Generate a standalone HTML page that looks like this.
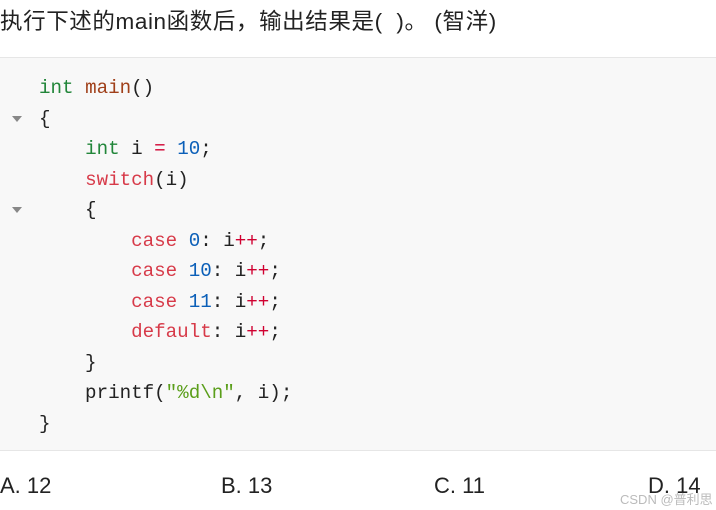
<!DOCTYPE html>
<html><head><meta charset="utf-8"><style>
body{margin:0;width:716px;height:510px;background:#fff;position:relative;overflow:hidden;font-family:"Liberation Sans","Noto Sans CJK SC",sans-serif;color:#222}
.t{position:absolute;left:0;top:8px;font-size:22.5px;letter-spacing:0.6px;line-height:28px;white-space:pre}
.code{position:absolute;left:0;top:57px;width:716px;height:392px;background:#f8f8f8;border-top:1px solid #e6e6e6;border-bottom:1px solid #e6e6e6}
pre{position:absolute;left:39px;top:15px;margin:0;font-family:"Liberation Mono","DejaVu Sans Mono",monospace;font-size:19.2px;line-height:30.5px;color:#222}
.k{color:#22863a}.f{color:#a0401a}.r{color:#d73a49}.n{color:#0b5fb8}.s{color:#5a9e1a}.o{color:#d00030}
.tri{position:absolute;left:12px;width:0;height:0;border-left:5px solid transparent;border-right:5px solid transparent;border-top:6px solid #888}
.op{position:absolute;top:472px;font-size:22px;line-height:28px}
.wm{position:absolute;left:620px;top:489px;font-size:13px;color:#bbb}
</style></head><body>
<div class="t">执行下述的main函数后，输出结果是(  )。 (智洋)</div>
<div class="code">
<div class="tri" style="top:58px"></div>
<div class="tri" style="top:149px"></div>
<pre><span class="k">int</span> <span class="f">main</span>()
{
    <span class="k">int</span> i <span class="o">=</span> <span class="n">10</span>;
    <span class="r">switch</span>(i)
    {
        <span class="r">case</span> <span class="n">0</span>: i<span class="o">++</span>;
        <span class="r">case</span> <span class="n">10</span>: i<span class="o">++</span>;
        <span class="r">case</span> <span class="n">11</span>: i<span class="o">++</span>;
        <span class="r">default</span>: i<span class="o">++</span>;
    }
    printf(<span class="s">"%d\n"</span>, i);
}</pre>
</div>
<div class="op" style="left:0">A. 12</div>
<div class="op" style="left:221px">B. 13</div>
<div class="op" style="left:434px">C. 11</div>
<div class="op" style="left:648px">D. 14</div>
<div class="wm">CSDN @普利思</div>
</body></html>
